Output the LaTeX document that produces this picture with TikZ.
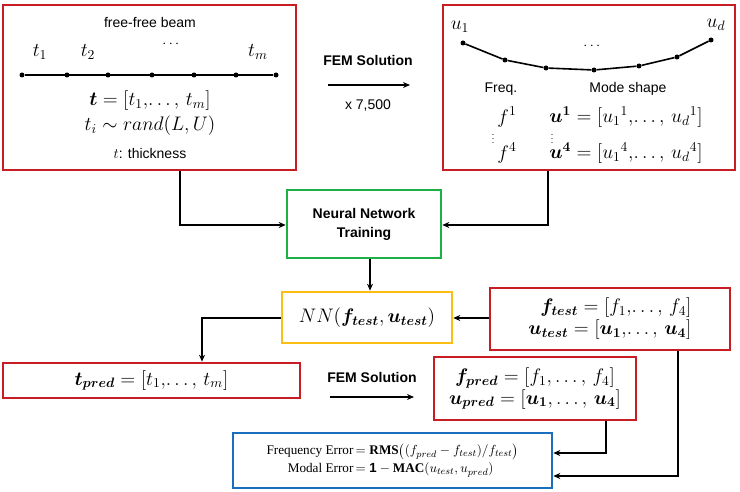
\documentclass[tikz,border=0pt]{standalone}
\usepackage{amsmath,bm}
\usepackage{fontspec}
\usetikzlibrary{arrows.meta}
\setmainfont{Liberation Sans}
\newfontfamily\serif{Liberation Serif}
\newcommand\MZ[1]{\scalebox{1.36}{#1}}
\newcommand\SB[1]{\text{\serif\bfseries #1}}
\begin{document}
\begin{tikzpicture}[x=1pt,y=-1pt,
  box/.style={draw=#1,line width=2.6pt,inner sep=0pt},
  arr/.style={-{Stealth[length=7pt,width=6pt]},line width=1.6pt},
  ln/.style={line width=1.6pt},
  dot/.style={circle,fill=black,inner sep=0pt,minimum size=5pt},
  lbl/.style={font=\fontsize{14}{16}\selectfont},
  mth/.style={font=\fontsize{14}{17}\selectfont,inner sep=0pt}]
\definecolor{rd}{RGB}{200,30,35}
\definecolor{gr}{RGB}{30,175,70}
\definecolor{yl}{RGB}{250,190,20}
\definecolor{bl}{RGB}{25,110,190}
\useasboundingbox (0,0) rectangle (740,492);
% boxes
\node[box=rd,minimum width=293pt,minimum height=165pt] (b1) at (149.5,87.5) {};
\node[box=rd,minimum width=292pt,minimum height=165pt] (b2) at (589,87.5) {};
\node[box=gr,minimum width=154pt,minimum height=68pt,align=center,font=\bfseries\fontsize{14}{19}\selectfont] (nn) at (364,224) {Neural Network\\Training};
\node[box=yl,minimum width=170pt,minimum height=51pt,mth] (yw) at (367,317.5) {\MZ{$NN(\bm{f_{test}},\bm{u_{test}})$}};
\node[box=rd,minimum width=240pt,minimum height=62pt,mth] (ft) at (610,319) {\MZ{$\begin{array}{@{}r@{}}\bm{f_{test}}=[f_1,\!\ldots,\,f_4]\\[-1pt]\bm{u_{test}}=[\bm{u_1},\!\ldots,\,\bm{u_4}]\end{array}$}};
\node[box=rd,minimum width=297pt,minimum height=35pt,mth] (tp) at (151.5,380.5) {\MZ{$\bm{t_{pred}}=[t_1,\!\ldots,\,t_m]$}};
\node[box=rd,minimum width=202pt,minimum height=63pt,mth] (fp) at (535,388.5) {\MZ{$\begin{array}{@{}c@{}}\bm{f_{pred}}=[f_1,\ldots,\,f_4]\\[-1pt]\bm{u_{pred}}=[\bm{u_1},\ldots,\,\bm{u_4}]\end{array}$}};
\node[box=bl,minimum width=319pt,minimum height=55pt,font=\serif\fontsize{11}{14}\selectfont] (er) at (392.5,460.5) {\scalebox{1.2}{\begin{tabular}{@{}r@{\,}l@{}}Frequency Error &$=\SB{RMS}\big((f_{pred}-f_{test})/f_{test}\big)$\\[1pt] Modal Error &$=\mathbf{1}-\SB{MAC}(u_{test},u_{pred})$\end{tabular}}};
% box1 contents
\node[lbl] (fb) at (150,22) {free-free beam};
\node[mth] (t1) at (40,52) {\MZ{$t_1$}};
\node[mth] (t2) at (88,52) {\MZ{$t_2$}};
\node[lbl] (td) at (172,44) {$\cdots$};
\node[mth] (tm) at (258,52) {\MZ{$t_m$}};
\foreach \x [count=\i] in {22,67,108,152,194,236,276} \node[dot] (p\i) at (\x,75) {};
\draw[ln] (p1) -- (p7);
\node[mth] (e1) at (150,101) {\MZ{$\bm{t}=[t_1,\!\ldots,\,t_m]$}};
\node[mth] (e2) at (150,126) {\MZ{$t_i\sim rand(L,U)$}};
\node[lbl] (e3) at (150,153) {$t$: thickness};
% box2 contents
\node[mth] (u1) at (460,27) {\MZ{$u_1$}};
\node[mth] (ud) at (716,25) {\MZ{$u_d$}};
\node[lbl] (ud2) at (593,46) {$\cdots$};
\foreach \x/\y [count=\i] in {463/43,505/60,546/68,594/70,639/66,677/57,711/40} \node[dot] (q\i) at (\x,\y) {};
\draw[ln] (q1)--(q2)--(q3)--(q4)--(q5)--(q6)--(q7);
\node[lbl] (fq) at (501,89) {Freq.};
\node[lbl] (ms) at (628,89) {Mode shape};
\node[mth] (f1) at (507,117) {\MZ{$f^1$}};
\node[mth] (m1) at (626,117) {\MZ{$\bm{u^1}=[{u_1}^1,\!\ldots,\,{u_d}^1]$}};
\node[font=\fontsize{9}{9}\selectfont,inner sep=0pt] (v1) at (493,136) {$\vdots$};
\node[font=\fontsize{9}{9}\selectfont,inner sep=0pt] (v2) at (552,136) {$\vdots$};
\node[mth] (f4) at (507,153) {\MZ{$f^4$}};
\node[mth] (m4) at (626,153) {\MZ{$\bm{u^4}=[{u_1}^4,\!\ldots,\,{u_d}^4]$}};
% FEM labels
\node[font=\bfseries\fontsize{14}{16}\selectfont] (fem1) at (368,60) {FEM Solution};
\coordinate (a1) at (328,85); \coordinate (a2) at (410,85);
\draw[arr] (a1) -- (a2);
\node[lbl] (x75) at (368,106) {x 7,500};
\node[font=\bfseries\fontsize{14}{16}\selectfont] (fem2) at (372,377) {FEM Solution};
\coordinate (a3) at (330,397); \coordinate (a4) at (414,397);
\draw[arr] (a3) -- (a4);
% connectors
\draw[arr] (b1.south -| 180,0) |- (nn.west |- 0,225);
\draw[arr] (b2.south -| 548,0) |- (nn.east |- 0,225);
\draw[arr] (nn.south -| 370,0) -- (yw.north -| 370,0);
\draw[arr] (ft.west |- 0,318) -- (yw.east |- 0,318);
\draw[arr] (yw.west |- 0,318) -| (tp.north -| 202,0);
\draw[arr] (fp.south -| 606,0) |- (er.east |- 0,453);
\draw[arr] (ft.south -| 678,0) |- (er.east |- 0,476);
\end{tikzpicture}
\end{document}
